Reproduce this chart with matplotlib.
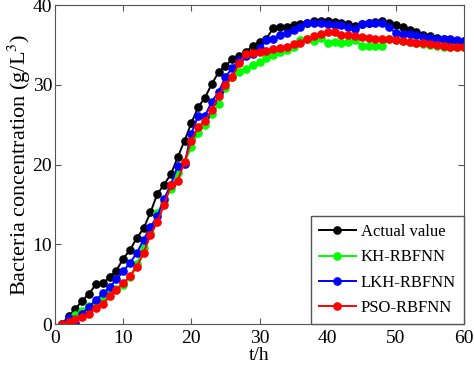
import matplotlib
matplotlib.use('Agg')
from matplotlib import pyplot as plt

hours = list(range(1, 61))

actual = [0.0, 1.0, 1.9, 2.95, 3.8, 5.0, 5.1, 5.9, 6.7, 8.2,
          9.3, 10.8, 12.0, 14.0, 16.3, 17.5, 18.8, 20.9, 23.0, 25.2,
          27.2, 28.4, 30.1, 31.6, 32.4, 33.2, 33.6, 34.1, 34.9, 35.4,
          35.8, 37.1, 37.2, 37.3, 37.5, 37.6, 37.8, 38.0, 38.0, 38.0,
          37.9, 37.7, 37.6, 37.4, 37.6, 37.8, 37.9, 38.0, 37.7, 37.5,
          37.2, 36.9, 36.6, 36.3, 36.1, 35.9, 35.7, 35.6, 35.5, 35.5]

kh = [0.0, 0.4, 1.1, 1.7, 2.3, 2.8, 3.3, 4.0, 4.4, 4.9,
      5.9, 7.6, 9.5, 11.4, 13.9, 15.5, 16.9, 18.9, 20.3, 22.2,
      24.0, 25.0, 26.4, 27.6, 29.6, 31.0, 31.6, 32.0, 32.5, 32.9,
      33.4, 33.7, 34.1, 34.4, 34.8, 35.6, 35.8, 35.5, 35.9, 35.2,
      35.4, 35.2, 35.4, 35.6, 34.9, 34.9, 34.9, 34.9, 35.7, 35.6,
      35.5, 35.4, 35.2, 35.1, 35.0, 34.9, 34.8, 34.8, 34.7, 34.7]

lkh = [0.0, 0.8, 0.2, 1.3, 2.2, 3.0, 3.85, 4.6, 5.6, 6.6,
       7.7, 8.9, 10.6, 12.2, 13.5, 15.7, 17.5, 19.85, 20.1, 23.9,
       26.1, 26.1, 27.9, 29.1, 31.0, 32.1, 33.1, 33.6, 33.9, 34.6,
       35.6, 35.8, 36.2, 36.5, 36.9, 37.25, 37.7, 37.8, 37.8, 37.6,
       37.5, 37.5, 37.3, 37.0, 37.6, 37.8, 37.8, 37.7, 37.2, 36.5,
       36.4, 36.4, 36.2, 36.0, 35.9, 35.8, 35.7, 35.7, 35.6, 35.5]

pso = [0.0, 0.3, 0.6, 0.9, 1.3, 2.0, 2.5, 3.5, 4.3, 5.1,
       6.0, 7.2, 8.9, 11.2, 12.8, 14.9, 17.4, 18.0, 20.3, 23.0,
       24.7, 25.5, 26.8, 28.6, 30.0, 31.0, 32.7, 33.85, 34.05, 34.1,
       34.3, 34.45, 34.6, 34.8, 35.1, 35.3, 35.7, 36.1, 36.4, 36.6,
       36.6, 36.3, 36.2, 36.1, 36.0, 35.9, 35.8, 35.7, 35.7, 35.6,
       35.5, 35.4, 35.3, 35.2, 35.1, 35.0, 34.9, 34.8, 34.8, 34.7]

names = ['Actual value', 'KH-RBFNN', 'LKH-RBFNN', 'PSO-RBFNN']
colors = ['#000000', '#00ff00', '#0000ff', '#ff0000']

plt.rcParams['font.family'] = ['Liberation Serif', 'DejaVu Serif']
plt.rcParams['mathtext.fontset'] = 'stix'

fig = plt.figure(figsize=(4.74, 3.65), dpi=100)
ax = fig.add_axes([0.116, 0.112, 0.863, 0.874])

for series, name, color in zip([actual, kh, lkh, pso], names, colors):
    ax.plot(hours, series, '-o', color=color, label=name,
            linewidth=1.4, markersize=5.2)

ax.set_xlim(0, 60)
ax.set_ylim(0, 40)
ax.set_xticks(range(0, 61, 10))
ax.set_yticks(range(0, 41, 10))
ax.tick_params(direction='in', top=True, right=True, labelsize=14,
               length=4, color='#555555')
ax.tick_params(axis='x', pad=4)
ax.tick_params(axis='y', pad=2)
for sp in ax.spines.values():
    sp.set_color('#555555')

ax.set_xlabel('t/h', fontsize=14, labelpad=0)
ax.set_ylabel('Bacteria concentration (g/L$^3$)', fontsize=16, labelpad=0)

leg = ax.legend(loc='lower right', fontsize=12, fancybox=False,
                framealpha=1, edgecolor='#555555', borderaxespad=0,
                handlelength=2.2, handletextpad=0.3, labelspacing=0.55,
                borderpad=0.5)
leg.get_frame().set_linewidth(1.0)

fig.savefig('out.png', dpi=100)
